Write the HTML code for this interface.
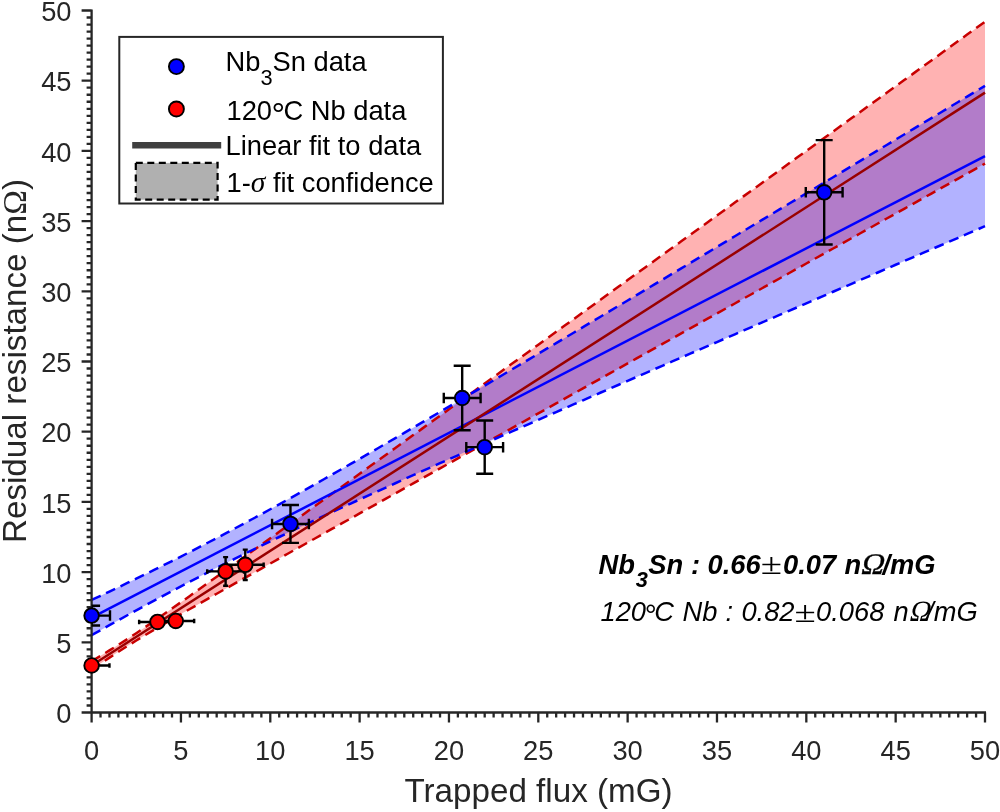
<!DOCTYPE html>
<html lang="en"><head><meta charset="utf-8"><title>Residual resistance vs trapped flux</title>
<style>html,body{margin:0;padding:0;background:#fff}body{width:1000px;height:812px;overflow:hidden}svg{display:block}text{font-family:"Liberation Sans",sans-serif;fill:#262626}.sym{font-family:"Liberation Serif",serif}</style></head><body>
<svg width="1000" height="812" viewBox="0 0 1000 812">
<rect width="1000" height="812" fill="#fff"/>
<defs><clipPath id="plot"><rect x="91.6" y="10.5" width="894.4" height="702"/></clipPath></defs>
<g id="bands">
<polygon points="91.6,661.22 100.53,655.87 109.47,650.42 118.4,644.83 127.34,639.09 136.27,633.19 145.2,627.16 154.14,621.03 163.07,614.82 172.01,608.55 180.94,602.24 189.87,595.9 198.81,589.54 207.74,583.16 216.68,576.77 225.61,570.36 234.54,563.95 243.48,557.53 252.41,551.11 261.35,544.68 270.28,538.25 279.21,531.81 288.15,525.37 297.08,518.93 306.02,512.49 314.95,506.04 323.88,499.6 332.82,493.15 341.75,486.7 350.69,480.25 359.62,473.8 368.55,467.35 377.49,460.9 386.42,454.45 395.36,447.99 404.29,441.54 413.22,435.09 422.16,428.63 431.09,422.18 440.03,415.72 448.96,409.26 457.89,402.81 466.83,396.35 475.76,389.9 484.7,383.44 493.63,376.98 502.56,370.52 511.5,364.07 520.43,357.61 529.37,351.15 538.3,344.69 547.23,338.23 556.17,331.78 565.1,325.32 574.04,318.86 582.97,312.4 591.9,305.94 600.84,299.48 609.77,293.02 618.71,286.56 627.64,280.1 636.57,273.64 645.51,267.18 654.44,260.73 663.38,254.27 672.31,247.81 681.24,241.35 690.18,234.89 699.11,228.43 708.05,221.97 716.98,215.51 725.91,209.05 734.85,202.59 743.78,196.13 752.72,189.67 761.65,183.21 770.58,176.74 779.52,170.28 788.45,163.82 797.39,157.36 806.32,150.9 815.25,144.44 824.19,137.98 833.12,131.52 842.06,125.06 850.99,118.6 859.92,112.14 868.86,105.68 877.79,99.22 886.73,92.76 895.66,86.3 904.59,79.84 913.53,73.37 922.46,66.91 931.4,60.45 940.33,53.99 949.26,47.53 958.2,41.07 967.13,34.61 976.07,28.15 985,21.69 985,163.58 976.07,168.58 967.13,173.57 958.2,178.57 949.26,183.56 940.33,188.56 931.4,193.56 922.46,198.55 913.53,203.55 904.59,208.54 895.66,213.54 886.73,218.53 877.79,223.53 868.86,228.53 859.92,233.52 850.99,238.52 842.06,243.51 833.12,248.51 824.19,253.51 815.25,258.5 806.32,263.5 797.39,268.49 788.45,273.49 779.52,278.49 770.58,283.48 761.65,288.48 752.72,293.48 743.78,298.47 734.85,303.47 725.91,308.46 716.98,313.46 708.05,318.46 699.11,323.45 690.18,328.45 681.24,333.45 672.31,338.44 663.38,343.44 654.44,348.44 645.51,353.44 636.57,358.43 627.64,363.43 618.71,368.43 609.77,373.42 600.84,378.42 591.9,383.42 582.97,388.42 574.04,393.41 565.1,398.41 556.17,403.41 547.23,408.41 538.3,413.41 529.37,418.41 520.43,423.4 511.5,428.4 502.56,433.4 493.63,438.4 484.7,443.4 475.76,448.4 466.83,453.4 457.89,458.4 448.96,463.4 440.03,468.4 431.09,473.4 422.16,478.41 413.22,483.41 404.29,488.41 395.36,493.41 386.42,498.42 377.49,503.42 368.55,508.42 359.62,513.43 350.69,518.44 341.75,523.44 332.82,528.45 323.88,533.46 314.95,538.47 306.02,543.48 297.08,548.5 288.15,553.51 279.21,558.53 270.28,563.55 261.35,568.58 252.41,573.61 243.48,578.64 234.54,583.68 225.61,588.72 216.68,593.77 207.74,598.84 198.81,603.91 189.87,609.01 180.94,614.12 172.01,619.27 163.07,624.46 154.14,629.7 145.2,635.03 136.27,640.46 127.34,646.02 118.4,651.73 109.47,657.6 100.53,663.6 91.6,669.71" fill="#ff0000" fill-opacity="0.3"/>
<polygon points="91.6,599.97 100.53,595.77 109.47,591.53 118.4,587.27 127.34,582.98 136.27,578.66 145.2,574.31 154.14,569.92 163.07,565.49 172.01,561.02 180.94,556.52 189.87,551.97 198.81,547.38 207.74,542.76 216.68,538.09 225.61,533.38 234.54,528.63 243.48,523.84 252.41,519.01 261.35,514.15 270.28,509.26 279.21,504.33 288.15,499.37 297.08,494.38 306.02,489.36 314.95,484.32 323.88,479.26 332.82,474.17 341.75,469.06 350.69,463.94 359.62,458.8 368.55,453.64 377.49,448.47 386.42,443.28 395.36,438.08 404.29,432.87 413.22,427.65 422.16,422.41 431.09,417.17 440.03,411.92 448.96,406.67 457.89,401.4 466.83,396.13 475.76,390.85 484.7,385.57 493.63,380.28 502.56,374.98 511.5,369.68 520.43,364.38 529.37,359.07 538.3,353.76 547.23,348.44 556.17,343.12 565.1,337.8 574.04,332.47 582.97,327.15 591.9,321.81 600.84,316.48 609.77,311.14 618.71,305.8 627.64,300.46 636.57,295.12 645.51,289.77 654.44,284.43 663.38,279.08 672.31,273.73 681.24,268.38 690.18,263.02 699.11,257.67 708.05,252.31 716.98,246.95 725.91,241.6 734.85,236.24 743.78,230.87 752.72,225.51 761.65,220.15 770.58,214.78 779.52,209.42 788.45,204.05 797.39,198.69 806.32,193.32 815.25,187.95 824.19,182.58 833.12,177.21 842.06,171.84 850.99,166.47 859.92,161.09 868.86,155.72 877.79,150.35 886.73,144.97 895.66,139.6 904.59,134.22 913.53,128.85 922.46,123.47 931.4,118.1 940.33,112.72 949.26,107.34 958.2,101.96 967.13,96.58 976.07,91.2 985,85.83 985,226.22 976.07,230.08 967.13,233.93 958.2,237.78 949.26,241.63 940.33,245.49 931.4,249.34 922.46,253.2 913.53,257.05 904.59,260.91 895.66,264.76 886.73,268.62 877.79,272.48 868.86,276.33 859.92,280.19 850.99,284.05 842.06,287.91 833.12,291.77 824.19,295.63 815.25,299.49 806.32,303.36 797.39,307.22 788.45,311.09 779.52,314.95 770.58,318.82 761.65,322.68 752.72,326.55 743.78,330.42 734.85,334.29 725.91,338.16 716.98,342.03 708.05,345.91 699.11,349.78 690.18,353.66 681.24,357.54 672.31,361.42 663.38,365.3 654.44,369.18 645.51,373.06 636.57,376.95 627.64,380.84 618.71,384.73 609.77,388.62 600.84,392.52 591.9,396.41 582.97,400.31 574.04,404.22 565.1,408.12 556.17,412.03 547.23,415.94 538.3,419.86 529.37,423.77 520.43,427.7 511.5,431.62 502.56,435.56 493.63,439.49 484.7,443.43 475.76,447.38 466.83,451.34 457.89,455.29 448.96,459.26 440.03,463.23 431.09,467.22 422.16,471.21 413.22,475.21 404.29,479.22 395.36,483.24 386.42,487.27 377.49,491.31 368.55,495.37 359.62,499.44 350.69,503.53 341.75,507.64 332.82,511.76 323.88,515.91 314.95,520.08 306.02,524.27 297.08,528.48 288.15,532.72 279.21,537 270.28,541.3 261.35,545.63 252.41,550 243.48,554.41 234.54,558.85 225.61,563.33 216.68,567.85 207.74,572.42 198.81,577.02 189.87,581.66 180.94,586.35 172.01,591.07 163.07,595.84 154.14,600.64 145.2,605.48 136.27,610.36 127.34,615.27 118.4,620.21 109.47,625.18 100.53,630.18 91.6,635.21" fill="#0000ff" fill-opacity="0.3"/>
</g>
<g id="fits" fill="none" stroke-width="2.5">
<polyline points="91.6,661.22 100.53,655.87 109.47,650.42 118.4,644.83 127.34,639.09 136.27,633.19 145.2,627.16 154.14,621.03 163.07,614.82 172.01,608.55 180.94,602.24 189.87,595.9 198.81,589.54 207.74,583.16 216.68,576.77 225.61,570.36 234.54,563.95 243.48,557.53 252.41,551.11 261.35,544.68 270.28,538.25 279.21,531.81 288.15,525.37 297.08,518.93 306.02,512.49 314.95,506.04 323.88,499.6 332.82,493.15 341.75,486.7 350.69,480.25 359.62,473.8 368.55,467.35 377.49,460.9 386.42,454.45 395.36,447.99 404.29,441.54 413.22,435.09 422.16,428.63 431.09,422.18 440.03,415.72 448.96,409.26 457.89,402.81 466.83,396.35 475.76,389.9 484.7,383.44 493.63,376.98 502.56,370.52 511.5,364.07 520.43,357.61 529.37,351.15 538.3,344.69 547.23,338.23 556.17,331.78 565.1,325.32 574.04,318.86 582.97,312.4 591.9,305.94 600.84,299.48 609.77,293.02 618.71,286.56 627.64,280.1 636.57,273.64 645.51,267.18 654.44,260.73 663.38,254.27 672.31,247.81 681.24,241.35 690.18,234.89 699.11,228.43 708.05,221.97 716.98,215.51 725.91,209.05 734.85,202.59 743.78,196.13 752.72,189.67 761.65,183.21 770.58,176.74 779.52,170.28 788.45,163.82 797.39,157.36 806.32,150.9 815.25,144.44 824.19,137.98 833.12,131.52 842.06,125.06 850.99,118.6 859.92,112.14 868.86,105.68 877.79,99.22 886.73,92.76 895.66,86.3 904.59,79.84 913.53,73.37 922.46,66.91 931.4,60.45 940.33,53.99 949.26,47.53 958.2,41.07 967.13,34.61 976.07,28.15 985,21.69" stroke="#c80000" stroke-dasharray="10 6"/>
<polyline points="91.6,669.71 100.53,663.6 109.47,657.6 118.4,651.73 127.34,646.02 136.27,640.46 145.2,635.03 154.14,629.7 163.07,624.46 172.01,619.27 180.94,614.12 189.87,609.01 198.81,603.91 207.74,598.84 216.68,593.77 225.61,588.72 234.54,583.68 243.48,578.64 252.41,573.61 261.35,568.58 270.28,563.55 279.21,558.53 288.15,553.51 297.08,548.5 306.02,543.48 314.95,538.47 323.88,533.46 332.82,528.45 341.75,523.44 350.69,518.44 359.62,513.43 368.55,508.42 377.49,503.42 386.42,498.42 395.36,493.41 404.29,488.41 413.22,483.41 422.16,478.41 431.09,473.4 440.03,468.4 448.96,463.4 457.89,458.4 466.83,453.4 475.76,448.4 484.7,443.4 493.63,438.4 502.56,433.4 511.5,428.4 520.43,423.4 529.37,418.41 538.3,413.41 547.23,408.41 556.17,403.41 565.1,398.41 574.04,393.41 582.97,388.42 591.9,383.42 600.84,378.42 609.77,373.42 618.71,368.43 627.64,363.43 636.57,358.43 645.51,353.44 654.44,348.44 663.38,343.44 672.31,338.44 681.24,333.45 690.18,328.45 699.11,323.45 708.05,318.46 716.98,313.46 725.91,308.46 734.85,303.47 743.78,298.47 752.72,293.48 761.65,288.48 770.58,283.48 779.52,278.49 788.45,273.49 797.39,268.49 806.32,263.5 815.25,258.5 824.19,253.51 833.12,248.51 842.06,243.51 850.99,238.52 859.92,233.52 868.86,228.53 877.79,223.53 886.73,218.53 895.66,213.54 904.59,208.54 913.53,203.55 922.46,198.55 931.4,193.56 940.33,188.56 949.26,183.56 958.2,178.57 967.13,173.57 976.07,168.58 985,163.58" stroke="#c80000" stroke-dasharray="10 6"/>
<polyline points="91.6,599.97 100.53,595.77 109.47,591.53 118.4,587.27 127.34,582.98 136.27,578.66 145.2,574.31 154.14,569.92 163.07,565.49 172.01,561.02 180.94,556.52 189.87,551.97 198.81,547.38 207.74,542.76 216.68,538.09 225.61,533.38 234.54,528.63 243.48,523.84 252.41,519.01 261.35,514.15 270.28,509.26 279.21,504.33 288.15,499.37 297.08,494.38 306.02,489.36 314.95,484.32 323.88,479.26 332.82,474.17 341.75,469.06 350.69,463.94 359.62,458.8 368.55,453.64 377.49,448.47 386.42,443.28 395.36,438.08 404.29,432.87 413.22,427.65 422.16,422.41 431.09,417.17 440.03,411.92 448.96,406.67 457.89,401.4 466.83,396.13 475.76,390.85 484.7,385.57 493.63,380.28 502.56,374.98 511.5,369.68 520.43,364.38 529.37,359.07 538.3,353.76 547.23,348.44 556.17,343.12 565.1,337.8 574.04,332.47 582.97,327.15 591.9,321.81 600.84,316.48 609.77,311.14 618.71,305.8 627.64,300.46 636.57,295.12 645.51,289.77 654.44,284.43 663.38,279.08 672.31,273.73 681.24,268.38 690.18,263.02 699.11,257.67 708.05,252.31 716.98,246.95 725.91,241.6 734.85,236.24 743.78,230.87 752.72,225.51 761.65,220.15 770.58,214.78 779.52,209.42 788.45,204.05 797.39,198.69 806.32,193.32 815.25,187.95 824.19,182.58 833.12,177.21 842.06,171.84 850.99,166.47 859.92,161.09 868.86,155.72 877.79,150.35 886.73,144.97 895.66,139.6 904.59,134.22 913.53,128.85 922.46,123.47 931.4,118.1 940.33,112.72 949.26,107.34 958.2,101.96 967.13,96.58 976.07,91.2 985,85.83" stroke="#0000ff" stroke-dasharray="10 6"/>
<polyline points="91.6,635.21 100.53,630.18 109.47,625.18 118.4,620.21 127.34,615.27 136.27,610.36 145.2,605.48 154.14,600.64 163.07,595.84 172.01,591.07 180.94,586.35 189.87,581.66 198.81,577.02 207.74,572.42 216.68,567.85 225.61,563.33 234.54,558.85 243.48,554.41 252.41,550 261.35,545.63 270.28,541.3 279.21,537 288.15,532.72 297.08,528.48 306.02,524.27 314.95,520.08 323.88,515.91 332.82,511.76 341.75,507.64 350.69,503.53 359.62,499.44 368.55,495.37 377.49,491.31 386.42,487.27 395.36,483.24 404.29,479.22 413.22,475.21 422.16,471.21 431.09,467.22 440.03,463.23 448.96,459.26 457.89,455.29 466.83,451.34 475.76,447.38 484.7,443.43 493.63,439.49 502.56,435.56 511.5,431.62 520.43,427.7 529.37,423.77 538.3,419.86 547.23,415.94 556.17,412.03 565.1,408.12 574.04,404.22 582.97,400.31 591.9,396.41 600.84,392.52 609.77,388.62 618.71,384.73 627.64,380.84 636.57,376.95 645.51,373.06 654.44,369.18 663.38,365.3 672.31,361.42 681.24,357.54 690.18,353.66 699.11,349.78 708.05,345.91 716.98,342.03 725.91,338.16 734.85,334.29 743.78,330.42 752.72,326.55 761.65,322.68 770.58,318.82 779.52,314.95 788.45,311.09 797.39,307.22 806.32,303.36 815.25,299.49 824.19,295.63 833.12,291.77 842.06,287.91 850.99,284.05 859.92,280.19 868.86,276.33 877.79,272.48 886.73,268.62 895.66,264.76 904.59,260.91 913.53,257.05 922.46,253.2 931.4,249.34 940.33,245.49 949.26,241.63 958.2,237.78 967.13,233.93 976.07,230.08 985,226.22" stroke="#0000ff" stroke-dasharray="10 6"/>
<line x1="91.6" y1="617.59" x2="985" y2="156.02" stroke="#0000ff"/>
<line x1="91.6" y1="665.47" x2="985" y2="92.63" stroke="#990000"/>
</g>
<g id="axes" stroke="#262626" stroke-width="2.3" fill="none">
<path d="M91.6 9.5V713.5M90.6 712.5H986M91.6 712.5h-10M91.6 712.5v10M91.6 705.48h-5M100.53 712.5v5M91.6 698.46h-5M109.47 712.5v5M91.6 691.44h-5M118.4 712.5v5M91.6 684.42h-5M127.34 712.5v5M91.6 677.4h-5M136.27 712.5v5M91.6 670.38h-5M145.2 712.5v5M91.6 663.36h-5M154.14 712.5v5M91.6 656.34h-5M163.07 712.5v5M91.6 649.32h-5M172.01 712.5v5M91.6 642.3h-10M180.94 712.5v10M91.6 635.28h-5M189.87 712.5v5M91.6 628.26h-5M198.81 712.5v5M91.6 621.24h-5M207.74 712.5v5M91.6 614.22h-5M216.68 712.5v5M91.6 607.2h-5M225.61 712.5v5M91.6 600.18h-5M234.54 712.5v5M91.6 593.16h-5M243.48 712.5v5M91.6 586.14h-5M252.41 712.5v5M91.6 579.12h-5M261.35 712.5v5M91.6 572.1h-10M270.28 712.5v10M91.6 565.08h-5M279.21 712.5v5M91.6 558.06h-5M288.15 712.5v5M91.6 551.04h-5M297.08 712.5v5M91.6 544.02h-5M306.02 712.5v5M91.6 537h-5M314.95 712.5v5M91.6 529.98h-5M323.88 712.5v5M91.6 522.96h-5M332.82 712.5v5M91.6 515.94h-5M341.75 712.5v5M91.6 508.92h-5M350.69 712.5v5M91.6 501.9h-10M359.62 712.5v10M91.6 494.88h-5M368.55 712.5v5M91.6 487.86h-5M377.49 712.5v5M91.6 480.84h-5M386.42 712.5v5M91.6 473.82h-5M395.36 712.5v5M91.6 466.8h-5M404.29 712.5v5M91.6 459.78h-5M413.22 712.5v5M91.6 452.76h-5M422.16 712.5v5M91.6 445.74h-5M431.09 712.5v5M91.6 438.72h-5M440.03 712.5v5M91.6 431.7h-10M448.96 712.5v10M91.6 424.68h-5M457.89 712.5v5M91.6 417.66h-5M466.83 712.5v5M91.6 410.64h-5M475.76 712.5v5M91.6 403.62h-5M484.7 712.5v5M91.6 396.6h-5M493.63 712.5v5M91.6 389.58h-5M502.56 712.5v5M91.6 382.56h-5M511.5 712.5v5M91.6 375.54h-5M520.43 712.5v5M91.6 368.52h-5M529.37 712.5v5M91.6 361.5h-10M538.3 712.5v10M91.6 354.48h-5M547.23 712.5v5M91.6 347.46h-5M556.17 712.5v5M91.6 340.44h-5M565.1 712.5v5M91.6 333.42h-5M574.04 712.5v5M91.6 326.4h-5M582.97 712.5v5M91.6 319.38h-5M591.9 712.5v5M91.6 312.36h-5M600.84 712.5v5M91.6 305.34h-5M609.77 712.5v5M91.6 298.32h-5M618.71 712.5v5M91.6 291.3h-10M627.64 712.5v10M91.6 284.28h-5M636.57 712.5v5M91.6 277.26h-5M645.51 712.5v5M91.6 270.24h-5M654.44 712.5v5M91.6 263.22h-5M663.38 712.5v5M91.6 256.2h-5M672.31 712.5v5M91.6 249.18h-5M681.24 712.5v5M91.6 242.16h-5M690.18 712.5v5M91.6 235.14h-5M699.11 712.5v5M91.6 228.12h-5M708.05 712.5v5M91.6 221.1h-10M716.98 712.5v10M91.6 214.08h-5M725.91 712.5v5M91.6 207.06h-5M734.85 712.5v5M91.6 200.04h-5M743.78 712.5v5M91.6 193.02h-5M752.72 712.5v5M91.6 186h-5M761.65 712.5v5M91.6 178.98h-5M770.58 712.5v5M91.6 171.96h-5M779.52 712.5v5M91.6 164.94h-5M788.45 712.5v5M91.6 157.92h-5M797.39 712.5v5M91.6 150.9h-10M806.32 712.5v10M91.6 143.88h-5M815.25 712.5v5M91.6 136.86h-5M824.19 712.5v5M91.6 129.84h-5M833.12 712.5v5M91.6 122.82h-5M842.06 712.5v5M91.6 115.8h-5M850.99 712.5v5M91.6 108.78h-5M859.92 712.5v5M91.6 101.76h-5M868.86 712.5v5M91.6 94.74h-5M877.79 712.5v5M91.6 87.72h-5M886.73 712.5v5M91.6 80.7h-10M895.66 712.5v10M91.6 73.68h-5M904.59 712.5v5M91.6 66.66h-5M913.53 712.5v5M91.6 59.64h-5M922.46 712.5v5M91.6 52.62h-5M931.4 712.5v5M91.6 45.6h-5M940.33 712.5v5M91.6 38.58h-5M949.26 712.5v5M91.6 31.56h-5M958.2 712.5v5M91.6 24.54h-5M967.13 712.5v5M91.6 17.52h-5M976.07 712.5v5M91.6 10.5h-10M985 712.5v10"/>
</g>
<g id="ticklabels" font-size="27.3">
<text x="71.5" y="723.1" text-anchor="end">0</text>
<text x="71.5" y="652.9" text-anchor="end">5</text>
<text x="71.5" y="582.7" text-anchor="end">10</text>
<text x="71.5" y="512.5" text-anchor="end">15</text>
<text x="71.5" y="442.3" text-anchor="end">20</text>
<text x="71.5" y="372.1" text-anchor="end">25</text>
<text x="71.5" y="301.9" text-anchor="end">30</text>
<text x="71.5" y="231.7" text-anchor="end">35</text>
<text x="71.5" y="161.5" text-anchor="end">40</text>
<text x="71.5" y="91.3" text-anchor="end">45</text>
<text x="71.5" y="21.1" text-anchor="end">50</text>
<text x="91.6" y="760.2" text-anchor="middle">0</text>
<text x="180.94" y="760.2" text-anchor="middle">5</text>
<text x="270.28" y="760.2" text-anchor="middle">10</text>
<text x="359.62" y="760.2" text-anchor="middle">15</text>
<text x="448.96" y="760.2" text-anchor="middle">20</text>
<text x="538.3" y="760.2" text-anchor="middle">25</text>
<text x="627.64" y="760.2" text-anchor="middle">30</text>
<text x="716.98" y="760.2" text-anchor="middle">35</text>
<text x="806.32" y="760.2" text-anchor="middle">40</text>
<text x="895.66" y="760.2" text-anchor="middle">45</text>
<text x="985" y="760.2" text-anchor="middle">50</text>
</g>
<text x="538.5" y="802" font-size="33.2" text-anchor="middle">Trapped flux (mG)</text>
<text transform="translate(25.7 361) rotate(-90)" font-size="33.2" text-anchor="middle">Residual resistance (n<tspan class="sym">Ω</tspan>)</text>
<g id="blue">
<path clip-path="url(#plot)" d="M91.6 605.8V625.45M83.1 605.8h17M83.1 625.45h17M73.2 615.62H110M73.2 610.37v10.5M110 610.37v10.5M290.47 504.99V542.9M281.97 504.99h17M281.97 542.9h17M272.07 523.94H308.87M272.07 518.69v10.5M308.87 518.69v10.5M462.18 365.71V430.3M453.68 365.71h17M453.68 430.3h17M443.78 398H480.59M443.78 392.75v10.5M480.59 392.75v10.5M484.7 420.47V473.82M476.2 420.47h17M476.2 473.82h17M466.29 447.14H503.1M466.29 441.89v10.5M503.1 441.89v10.5M824.19 140.09V244.55M815.69 140.09h17M815.69 244.55h17M805.78 192.32H842.59M805.78 187.07v10.5M842.59 187.07v10.5" stroke="#000" stroke-width="2.4" fill="none"/>
<circle cx="91.6" cy="615.62" r="7.3" fill="#0000ff" stroke="#000" stroke-width="1.9"/>
<circle cx="290.47" cy="523.94" r="7.3" fill="#0000ff" stroke="#000" stroke-width="1.9"/>
<circle cx="462.18" cy="398" r="7.3" fill="#0000ff" stroke="#000" stroke-width="1.9"/>
<circle cx="484.7" cy="447.14" r="7.3" fill="#0000ff" stroke="#000" stroke-width="1.9"/>
<circle cx="824.19" cy="192.32" r="7.3" fill="#0000ff" stroke="#000" stroke-width="1.9"/>
</g>
<g id="red">
<path clip-path="url(#plot)" d="M73.73 665.47H109.47M73.73 663.22v4.5M109.47 663.22v4.5M157.53 615.62V628.26M155.03 615.62h5M155.03 628.26h5M139.13 621.94H175.94M139.13 619.69v4.5M175.94 619.69v4.5M175.76 614.64V627.28M173.26 614.64h5M173.26 627.28h5M157.35 620.96H194.16M157.35 618.71v4.5M194.16 618.71v4.5M225.61 557.08V585.72M223.11 557.08h5M223.11 585.72h5M207.21 571.4H244.01M207.21 569.15v4.5M244.01 569.15v4.5M245.26 549.64V579.96M242.76 549.64h5M242.76 579.96h5M226.86 564.8H263.67M226.86 562.55v4.5M263.67 562.55v4.5" stroke="#000" stroke-width="2.4" fill="none"/>
<circle cx="91.6" cy="665.47" r="7.3" fill="#ff0000" stroke="#000" stroke-width="1.9"/>
<circle cx="157.53" cy="621.94" r="7.3" fill="#ff0000" stroke="#000" stroke-width="1.9"/>
<circle cx="175.76" cy="620.96" r="7.3" fill="#ff0000" stroke="#000" stroke-width="1.9"/>
<circle cx="225.61" cy="571.4" r="7.3" fill="#ff0000" stroke="#000" stroke-width="1.9"/>
<circle cx="245.26" cy="564.8" r="7.3" fill="#ff0000" stroke="#000" stroke-width="1.9"/>
</g>
<g id="legend">
<rect x="119.3" y="36.9" width="323.6" height="166.6" fill="#fff" stroke="#262626" stroke-width="2"/>
<circle cx="176.4" cy="66.6" r="7.5" fill="#0000ff" stroke="#000" stroke-width="1.9"/>
<circle cx="176.4" cy="109" r="7.5" fill="#ff0000" stroke="#000" stroke-width="1.9"/>
<line x1="132.2" y1="145.2" x2="221.2" y2="145.2" stroke="#404040" stroke-width="6.6"/>
<rect x="135.8" y="162.9" width="81.8" height="36.8" fill="#b0b0b0" stroke="#000" stroke-width="2.2" stroke-dasharray="7 4.5"/>
<g font-size="27.3" fill="#000">
<text x="225.5" y="70.8" style="fill:#000">Nb<tspan font-size="21.8" dy="14">3</tspan><tspan dy="-14">Sn data</tspan></text>
<text x="226.5" y="120" style="fill:#000">120<tspan dy="6.1" dx="-0.6" font-size="34">°</tspan><tspan dy="-6.1" dx="-1.6">C Nb data</tspan></text>
<text x="225.5" y="155.2" style="fill:#000">Linear fit to data</text>
<text x="226.5" y="191.6" style="fill:#000">1-<tspan class="sym" font-style="italic" font-size="29.5">σ</tspan> fit confidence</text>
</g></g>
<g id="annot" font-size="27.3">
<text y="573.6" font-weight="bold" font-style="italic" style="fill:#000"><tspan x="598.5">Nb</tspan><tspan x="635.8" dy="13.6" font-size="21.8">3</tspan><tspan x="648.3" dy="-13.6">Sn</tspan><tspan x="691">:</tspan><tspan x="707.6">0.66</tspan><tspan x="783">0.07</tspan><tspan x="844.4">n</tspan><tspan x="882.5">/mG</tspan></text>
<text transform="translate(760.8 574.1) scale(1.42 1.08)" class="sym" style="fill:#000">±</text>
<text transform="translate(860 573.6) skewX(-13) scale(1.12 1.1)" class="sym" style="fill:#000;stroke:#000;stroke-width:0.35">Ω</text>
<text y="621.2" font-style="italic" style="fill:#000"><tspan x="600.5">120</tspan><tspan x="644.8" dy="3.8" font-size="30" font-style="normal">°</tspan><tspan x="654.3" dy="-3.8">C</tspan><tspan x="682.6">Nb</tspan><tspan x="725.6">:</tspan><tspan x="741.4">0.82</tspan><tspan x="816">0.068</tspan><tspan x="893.4">n</tspan><tspan x="926.1">/mG</tspan></text>
<text transform="translate(794.5 621.7) scale(1.42 1.08)" class="sym" style="fill:#000">±</text>
<text transform="translate(908.6 621.2) skewX(-13) scale(1.02 1.08)" class="sym" style="fill:#000">Ω</text>
</g>
</svg></body></html>
